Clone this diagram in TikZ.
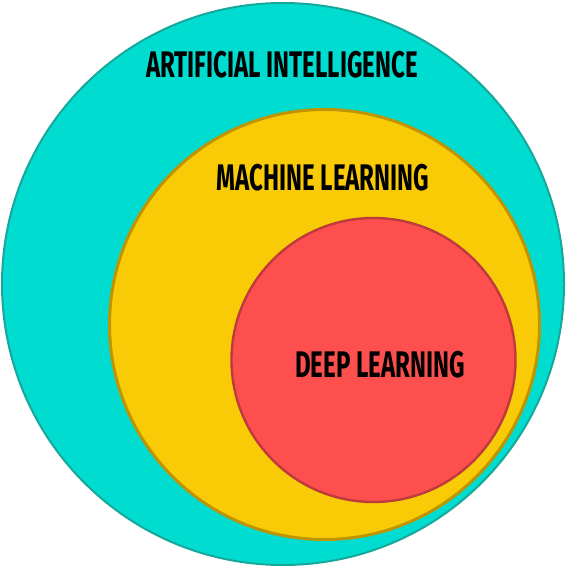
\documentclass[tikz,border=0pt]{standalone}
\usepackage{fontspec}
\usetikzlibrary{positioning}
\newfontfamily\setlabelfont[FakeStretch=0.65]{Fira Sans}
\definecolor{aifill}{HTML}{00DDD0}
\definecolor{aiedge}{HTML}{17A89C}
\definecolor{mlfill}{HTML}{F9CB06}
\definecolor{mledge}{HTML}{BE9400}
\definecolor{dlfill}{HTML}{FE4F4F}
\definecolor{dledge}{HTML}{BE3A3C}
\tikzset{
    ring/.style={circle, inner sep=0pt, outer sep=0pt},
    setlabel/.style={font=\setlabelfont\bfseries\fontsize{37}{37}\selectfont, text=black, inner sep=0pt}
}
\begin{document}
\begin{tikzpicture}[x=1pt, y=-1pt]
                \useasboundingbox (0,0) rectangle (567,569);
                \node[ring, fill=aifill, draw=aiedge, line width=2pt, minimum size=562pt] (ai) at (283,284) {};
                \node[ring, fill=mlfill, draw=mledge, line width=3pt, minimum size=430pt] (ml) at (324.5,324.5) {};
                \node[ring, fill=dlfill, draw=dledge, line width=2.4pt, minimum size=284pt] (dl) at (373.5,360) {};
                \node[setlabel] (ai_label) at (282,65) {ARTIFICIAL INTELLIGENCE};
                \node[setlabel] (ml_label) at (323,178) {MACHINE LEARNING};
                \node[setlabel] (dl_label) at (380,365) {DEEP LEARNING};
            \end{tikzpicture}
\end{document}
